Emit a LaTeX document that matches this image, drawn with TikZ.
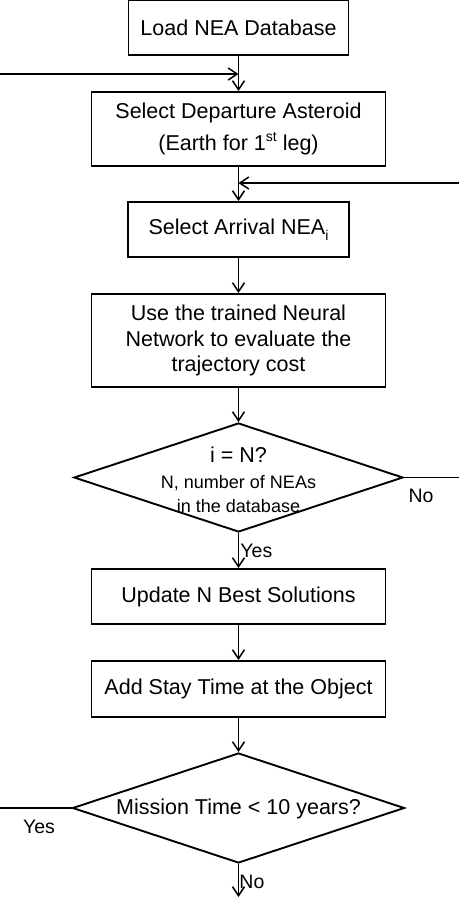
\documentclass[tikz,border=0pt]{standalone}
\usepackage{fontspec}
\setmainfont{Liberation Sans}
\usetikzlibrary{arrows.meta,shapes.geometric}
\begin{document}
\begin{tikzpicture}[x=1pt,y=-1pt,
  box/.style={draw,line width=1.9pt,inner sep=0pt,align=center,font=\fontsize{21.5}{25.5}\selectfont},
  dia/.style={draw,line width=1.9pt,diamond,inner sep=0pt},
  txt/.style={inner sep=0pt,align=center},
  arr/.style={line width=1.9pt,-{Straight Barb[length=9pt,width=12pt,line width=1.5pt]}},
  ln/.style={line width=1.9pt},
  lbl/.style={inner sep=0pt,font=\fontsize{19.5}{22}\selectfont}]
\useasboundingbox (0,0) rectangle (459,898);
\node[box,minimum width=220pt,minimum height=55pt] (b1) at (238.5,27.5) {Load NEA Database};
\node[box,minimum width=294pt,minimum height=74pt] (b2) at (238.5,129) {Select Departure Asteroid\\[6pt](Earth for 1\raisebox{0.75ex}{\fontsize{14}{14}\selectfont st} leg)};
\node[box,minimum width=221pt,minimum height=55pt] (b3) at (238.5,229.5) {Select Arrival NEA\raisebox{-0.55ex}{\fontsize{14}{14}\selectfont i}};
\node[box,minimum width=294pt,minimum height=93pt] (b4) at (238.5,340.5) {Use the trained Neural\\Network to evaluate the\\trajectory cost};
\node[dia,minimum width=329pt,minimum height=109pt] (d1) at (238.5,477.5) {};
\node[txt,font=\fontsize{21.5}{25}\selectfont] (d1t) at (238.5,455) {i = N?};
\node[txt,font=\fontsize{18}{24}\selectfont] (d1s) at (238.5,494) {N, number of NEAs\\in the database};
\node[box,minimum width=294pt,minimum height=55pt] (b5) at (238.5,596.5) {Update N Best Solutions};
\node[box,minimum width=294pt,minimum height=56pt] (b6) at (238.5,689) {Add Stay Time at the Object};
\node[dia,minimum width=332pt,minimum height=110pt] (d2) at (238.5,808) {};
\node[txt,font=\fontsize{21.5}{25}\selectfont] (d2t) at (238.5,809) {Mission Time < 10 years?};
\coordinate (inL) at (0,74);
\coordinate (inR) at (459,183);
\coordinate (outR) at (459,477.5);
\coordinate (outL) at (0,808);
\coordinate (end) at (238.5,897);
\draw[arr] (b1.south) -- (b2.north);
\draw[arr] (inL) -- (inL -| b1.south);
\draw[arr] (b2.south) -- (b3.north);
\draw[arr] (inR) -- (inR -| b2.south);
\draw[arr] (b3.south) -- (b4.north);
\draw[arr] (b4.south) -- (d1.north);
\draw[arr] (d1.south) -- node[lbl,right,pos=0.5,xshift=1pt] {Yes} (b5.north);
\draw[ln] (d1.east) -- (outR);
\node[lbl] (no1) at (421,496) {No};
\draw[arr] (b5.south) -- (b6.north);
\draw[arr] (b6.south) -- (d2.north);
\draw[ln] (d2.west) -- (outL);
\node[lbl] (yes2) at (39,827) {Yes};
\draw[arr] (d2.south) -- node[lbl,right,pos=0.55,xshift=0pt] {No} (end);
\end{tikzpicture}
\end{document}
